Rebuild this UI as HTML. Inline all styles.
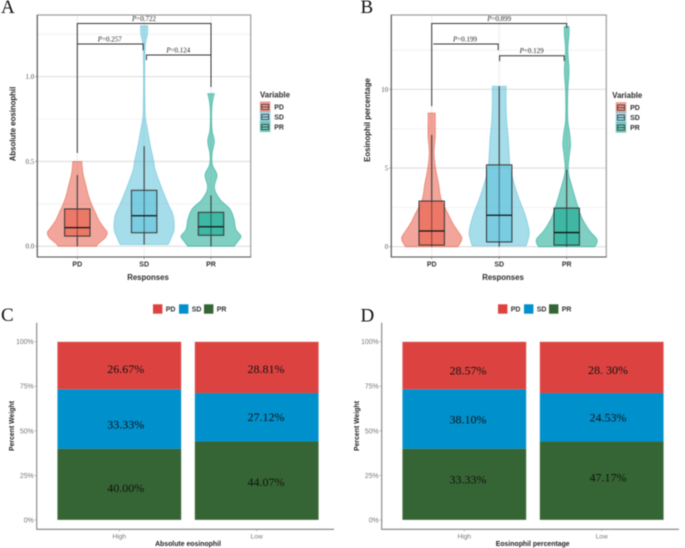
<!DOCTYPE html>
<html lang="en">
<head>
<meta charset="utf-8">
<title>Eosinophil violin and stacked bar charts</title>
<style>
html,body{margin:0;padding:0;background:#fff;width:685px;height:548px;overflow:hidden}
svg{display:block;filter:blur(0.5px)}
.letter{font-family:"Liberation Serif",serif;font-size:19px;fill:#111}
.title{font-family:"Liberation Sans",sans-serif;font-weight:bold;font-size:7.8px;fill:#2a2a2a}
.small-title{font-family:"Liberation Sans",sans-serif;font-weight:bold;font-size:6.9px;fill:#222}
.legend-text{font-family:"Liberation Sans",sans-serif;font-weight:bold;font-size:7px;fill:#333}
</style>
</head>
<body>
<svg id="figure" xmlns="http://www.w3.org/2000/svg" width="685" height="548" viewBox="0 0 685 548">
  <rect width="685" height="548" fill="#fff"/>
  <g id="panel-a"></g>
  <g id="panel-b"></g>
  <g id="panel-c"></g>
  <g id="panel-d"></g>

  <text class="letter" x="1" y="13">A</text>
  <text class="letter" x="360.5" y="13">B</text>
  <text class="letter" x="1" y="321">C</text>
  <text class="letter" x="360.5" y="321.5">D</text>

  <text class="title" transform="translate(15.5,124) rotate(-90)" text-anchor="middle">Absolute eosinophil</text>
  <text class="title" x="148" y="280" text-anchor="middle">Responses</text>
  <text class="title" transform="translate(370,120) rotate(-90)" text-anchor="middle">Eosinophil percentage</text>
  <text class="title" x="503" y="280" text-anchor="middle">Responses</text>

  <text class="small-title" transform="translate(14,426) rotate(-90)" text-anchor="middle">Percent Weight</text>
  <text class="small-title" x="188" y="546" text-anchor="middle">Absolute eosinophil</text>
  <text class="small-title" transform="translate(359,426) rotate(-90)" text-anchor="middle">Percent Weight</text>
  <text class="small-title" x="532.7" y="546" text-anchor="middle">Eosinophil percentage</text>

  <text class="title" x="260" y="97.5">Variable</text>
  <text class="title" x="612.3" y="98">Variable</text>
</svg>

<script>
/* Shared */
var responseCategories = ['PD', 'SD', 'PR'];
var violinColors = ['#E64B35', '#4DBBD5', '#00A087'];
var stackColors = ['#DC4340', '#0090CC', '#356534'];

/* Panel A: violin levels (value) and relative density (0-100) */
var aTicksMajor = [0, 0.5, 1];
var aTicksMinor = [0.25, 0.75, 1.25];
var aTickLabels = ['0.0', '0.5', '1.0'];
var aPdLevels = [0.5, 0.46, 0.42, 0.35, 0.3, 0.25, 0.2, 0.15, 0.1, 0.08, 0.05, 0.02, 0];
var aPdDensity = [15, 17, 20, 30, 37, 47, 60, 73, 93, 100, 93, 73, 63];
var aSdLevels = [1.3, 1.25, 1.2, 1.15, 1, 0.8, 0.75, 0.7, 0.6, 0.5, 0.45, 0.35, 0.25, 0.18, 0.1, 0.05, 0.01];
var aSdDensity = [12, 11, 5, 3, 2, 3, 5, 10, 20, 32, 37, 57, 80, 97, 100, 90, 80];
var aPrLevels = [0.9, 0.87, 0.82, 0.75, 0.68, 0.62, 0.55, 0.5, 0.47, 0.42, 0.36, 0.32, 0.27, 0.22, 0.16, 0.1, 0.06, 0.03, 0];
var aPrDensity = [11, 7, 3, 2, 4, 11, 4, 3, 7, 20, 12, 15, 33, 63, 77, 83, 100, 90, 77];
var aWhiskerLow = [0, 0.01, 0];
var aQ1 = [0.06, 0.08, 0.065];
var aMedian = [0.11, 0.18, 0.115];
var aQ3 = [0.22, 0.33, 0.2];
var aWhiskerHigh = [0.42, 0.59, 0.3];
var aPValues = ['0.722', '0.257', '0.124'];

/* Panel B */
var bTicksMajor = [0, 5, 10];
var bTicksMinor = [2.5, 7.5, 12.5];
var bTickLabels = ['0', '5', '10'];
var bPdLevels = [8.5, 8, 7, 6, 5, 4, 3, 2, 1.5, 1, 0.6, 0.3, 0];
var bPdDensity = [12, 12, 12, 8, 13, 23, 32, 57, 70, 87, 100, 97, 87];
var bSdLevels = [10.2, 9, 8, 7, 6, 5, 4, 3, 2, 1, 0.5, 0.05];
var bSdDensity = [23, 23, 25, 30, 33, 37, 50, 67, 87, 100, 97, 90];
var bPrLevels = [14, 13.5, 12.5, 11.2, 10, 9, 8, 7.2, 6.5, 6, 5, 4.5, 4, 3, 2, 1.5, 1, 0.5, 0.2, 0];
var bPrDensity = [8, 8, 4, 8, 4, 3, 4, 10, 13, 10, 5, 8, 15, 30, 47, 60, 77, 100, 100, 93];
var bWhiskerLow = [0, 0, 0];
var bQ1 = [0.1, 0.3, 0.1];
var bMedian = [1, 2, 0.9];
var bQ3 = [2.9, 5.2, 2.45];
var bWhiskerHigh = [7.1, 10.2, 4.9];
var bPValues = ['0.899', '0.199', '0.129'];

/* Panels C and D: stacked percentages per group, top segment first */
var stackGroups = ['High', 'Low'];
var stackTickValues = [0, 25, 50, 75, 100];
var stackTickLabels = ['0%', '25%', '50%', '75%', '100%'];
var cPd = [26.67, 28.81];
var cSd = [33.33, 27.12];
var cPr = [40, 44.07];
var cLabelsPd = ['26.67%', '28.81%'];
var cLabelsSd = ['33.33%', '27.12%'];
var cLabelsPr = ['40.00%', '44.07%'];
var dPd = [26.67, 28.8];
var dSd = [33.33, 27.2];
var dPr = [40, 44];
var dLabelsPd = ['28.57%', '28. 30%'];
var dLabelsSd = ['38.10%', '24.53%'];
var dLabelsPr = ['33.33%', '47.17%'];

var SVGNS = 'http://www.w3.org/2000/svg';

function make(parent, tag) {
  var el = document.createElementNS(SVGNS, tag);
  parent.appendChild(el);
  return el;
}
function setAll(el, attrs) {
  for (var k in attrs) { el.setAttribute(k, attrs[k]); }
  return el;
}

function smoothSide(pts) {
  var d = '';
  for (var i = 0; i < pts.length - 1; i++) {
    var p0 = pts[Math.max(i - 1, 0)], p1 = pts[i], p2 = pts[i + 1], p3 = pts[Math.min(i + 2, pts.length - 1)];
    var c1x = p1[0] + (p2[0] - p0[0]) / 6, c1y = p1[1] + (p2[1] - p0[1]) / 6;
    var c2x = p2[0] - (p3[0] - p1[0]) / 6, c2y = p2[1] - (p3[1] - p1[1]) / 6;
    d += 'C' + c1x.toFixed(2) + ' ' + c1y.toFixed(2) + ' ' + c2x.toFixed(2) + ' ' + c2y.toFixed(2) + ' ' + p2[0].toFixed(2) + ' ' + p2[1].toFixed(2);
  }
  return d;
}

function drawViolinPanel(cfg) {
  var root = document.getElementById(cfg.id);
  var x = function (i) { return cfg.x0 + cfg.step * i; };
  var y = function (v) { return cfg.y0 - cfg.pxPerUnit * v; };
  var densityScale = 0.3, boxHalf = 12.7;

  var panelBg = make(root, 'rect');
  setAll(panelBg, { x: cfg.left, y: cfg.top, width: cfg.right - cfg.left, height: cfg.bottom - cfg.top, fill: '#fff' });
  
  

  cfg.minor.forEach(function (t) {
    var g = make(root, 'line');
    setAll(g, { x1: cfg.left, x2: cfg.right, y1: y(t), y2: y(t), stroke: '#efefef', 'stroke-width': 0.8 });
    
    
  });
  cfg.major.forEach(function (t, i) {
    var g = make(root, 'line');
    setAll(g, { x1: cfg.left, x2: cfg.right, y1: y(t), y2: y(t), stroke: '#e3e3e3', 'stroke-width': 1.3 });
    
    
    var tick = make(root, 'line');
    setAll(tick, { x1: cfg.left - 2, x2: cfg.left, y1: y(t), y2: y(t), stroke: '#777', 'stroke-width': 0.7 });
    
    
    var lab = make(root, 'text');
    setAll(lab, { x: cfg.left - 3, y: y(t) + 2.4, 'text-anchor': 'end', 'font-size': 7, fill: '#555', 'font-family': '"Liberation Serif",serif' });
    lab.textContent = cfg.tickLabels[i];
    
    
  });
  responseCategories.forEach(function (c, i) {
    var g = make(root, 'line');
    setAll(g, { x1: x(i), x2: x(i), y1: cfg.top, y2: cfg.bottom, stroke: '#ececec', 'stroke-width': 1 });
    
    
  });

  responseCategories.forEach(function (c, i) {
    var lv = cfg.levels[i], dn = cfg.density[i];
    var right = lv.map(function (v, k) { return [x(i) + dn[k] * densityScale, y(v)]; });
    var left = lv.map(function (v, k) { return [x(i) - dn[k] * densityScale, y(v)]; }).reverse();
    var d = 'M' + right[0][0].toFixed(2) + ' ' + right[0][1].toFixed(2) + smoothSide(right) +
            'L' + left[0][0].toFixed(2) + ' ' + left[0][1].toFixed(2) + smoothSide(left) + 'Z';
    var v = make(root, 'path');
    setAll(v, { d: d, fill: violinColors[i], 'fill-opacity': 0.5, stroke: violinColors[i], 'stroke-opacity': 0.45, 'stroke-width': 1 });
    
    

    var wh = make(root, 'line');
    setAll(wh, { x1: x(i), x2: x(i), y1: y(cfg.wLow[i]), y2: y(cfg.wHigh[i]), stroke: '#3e3e3e', 'stroke-width': 1.1 });
    
    

    var box = make(root, 'rect');
    setAll(box, { x: x(i) - boxHalf, y: y(cfg.q3[i]), width: boxHalf * 2, height: y(cfg.q1[i]) - y(cfg.q3[i]), fill: violinColors[i], 'fill-opacity': 0.5, stroke: '#333', 'stroke-width': 1 });
    
    

    var med = make(root, 'line');
    setAll(med, { x1: x(i) - boxHalf, x2: x(i) + boxHalf, y1: y(cfg.median[i]), y2: y(cfg.median[i]), stroke: '#111', 'stroke-width': 1.3 });
    
    

    var tick = make(root, 'line');
    setAll(tick, { x1: x(i), x2: x(i), y1: cfg.bottom, y2: cfg.bottom + 2, stroke: '#777', 'stroke-width': 0.7 });
    
    

    var lab = make(root, 'text');
    setAll(lab, { x: x(i), y: cfg.bottom + 9.5, 'text-anchor': 'middle', 'font-size': 7, 'font-weight': 'bold', fill: '#333', 'font-family': '"Liberation Sans",sans-serif' });
    lab.textContent = c;
    
    

    var ky = cfg.legendY + i * 10;
    var key = make(root, 'rect');
    setAll(key, { x: cfg.legendX, y: ky - 5.5, width: 10.6, height: 10.6, fill: violinColors[i], 'fill-opacity': 0.55 });
    
    
    var keyBox = make(root, 'rect');
    setAll(keyBox, { x: cfg.legendX + 1.7, y: ky - 2.6, width: 7.2, height: 5.2, fill: 'none', stroke: '#333', 'stroke-width': 0.8 });
    
    
    var keyMed = make(root, 'line');
    setAll(keyMed, { x1: cfg.legendX + 1.7, x2: cfg.legendX + 8.9, y1: ky, y2: ky, stroke: '#333', 'stroke-width': 0.8 });
    
    
    var keyText = make(root, 'text');
    setAll(keyText, { x: cfg.legendX + 14.4, y: ky + 2.4, class: 'legend-text' });
    keyText.textContent = c;
    
    
  });

  cfg.brackets.forEach(function (b, idx) {
    var x1 = x(b.from), x2 = x(b.to), yy = y(b.at);
    var d = 'M' + x1 + ' ' + y(b.dropLeft) + 'L' + x1 + ' ' + yy + 'L' + x2 + ' ' + yy + 'L' + x2 + ' ' + y(b.dropRight);
    var p = make(root, 'path');
    setAll(p, { d: d, fill: 'none', stroke: '#333', 'stroke-width': 1 });
    
    
    var t = make(root, 'text');
    setAll(t, { x: x(b.textAt), y: yy - 2.6, 'text-anchor': 'middle', 'font-size': 7, fill: '#222', 'font-family': '"Liberation Serif",serif' });
    
    
    var it = make(t, 'tspan');
    it.setAttribute('font-style', 'italic');
    it.textContent = 'P';
    var rest = make(t, 'tspan');
    rest.textContent = '=' + cfg.pValues[idx];
  });

  var frame = make(root, 'rect');
  setAll(frame, { x: cfg.left, y: cfg.top, width: cfg.right - cfg.left, height: cfg.bottom - cfg.top, fill: 'none', stroke: '#9c9c9c', 'stroke-width': 1.2 });
  
  
  var axes = make(root, 'path');
  setAll(axes, { d: 'M' + cfg.left + ' ' + cfg.top + 'L' + cfg.left + ' ' + cfg.bottom + 'L' + cfg.right + ' ' + cfg.bottom, fill: 'none', stroke: '#5e5e5e', 'stroke-width': 1.1 });
  
  
}

drawViolinPanel({
  id: 'panel-a', prefix: 'a', left: 37.3, right: 250.7, top: 15, bottom: 257,
  x0: 77.3, step: 66.85, y0: 246.3, pxPerUnit: 169.7,
  major: aTicksMajor, minor: aTicksMinor, tickLabels: aTickLabels,
  levels: [aPdLevels, aSdLevels, aPrLevels], density: [aPdDensity, aSdDensity, aPrDensity],
  wLow: aWhiskerLow, q1: aQ1, median: aMedian, q3: aQ3, wHigh: aWhiskerHigh,
  legendX: 259.8, legendY: 107,
  pValues: aPValues,
  brackets: [
    { from: 0, to: 2, at: 1.313, dropLeft: 0.55, dropRight: 0.939, textAt: 0.998 },
    { from: 0, to: 0.985, at: 1.192, dropLeft: 1.192, dropRight: 1.155, textAt: 0.486 },
    { from: 1.035, to: 2, at: 1.127, dropLeft: 1.097, dropRight: 1.127, textAt: 1.511 }
  ]
});

drawViolinPanel({
  id: 'panel-b', prefix: 'b', left: 391.3, right: 606.3, top: 15, bottom: 257,
  x0: 431.7, step: 67.5, y0: 246.7, pxPerUnit: 15.73,
  major: bTicksMajor, minor: bTicksMinor, tickLabels: bTickLabels,
  levels: [bPdLevels, bSdLevels, bPrLevels], density: [bPdDensity, bSdDensity, bPrDensity],
  wLow: bWhiskerLow, q1: bQ1, median: bMedian, q3: bQ3, wHigh: bWhiskerHigh,
  legendX: 615.7, legendY: 107.6,
  pValues: bPValues,
  brackets: [
    { from: 0, to: 2, at: 14.19, dropLeft: 8.94, dropRight: 13.9, textAt: 1.0 },
    { from: 0.024, to: 0.985, at: 12.89, dropLeft: 12.89, dropRight: 12.5, textAt: 0.494 },
    { from: 1.006, to: 1.963, at: 12.14, dropLeft: 11.8, dropRight: 11.8, textAt: 1.48 }
  ]
});

function drawStackPanel(cfg) {
  var root = document.getElementById(cfg.id);
  var dx = cfg.dx;
  var y = function (p) { return 520 - 1.783 * p; };
  var barLeft = [57.3 + dx, 194.7 + dx], barWidth = 124, centers = [119.3 + dx, 256.7 + dx];

  stackTickValues.forEach(function (t, i) {
    var tick = make(root, 'line');
    setAll(tick, { x1: 34.6 + dx, x2: 36.7 + dx, y1: y(t), y2: y(t), stroke: '#888', 'stroke-width': 0.6 });
    
    
    var lab = make(root, 'text');
    setAll(lab, { x: 33.7 + dx, y: y(t) + 2.4, 'text-anchor': 'end', 'font-size': 6.9, fill: '#777', 'font-family': '"Liberation Sans",sans-serif' });
    lab.textContent = stackTickLabels[i];
    
    
  });

  stackGroups.forEach(function (g, gi) {
    var base = 0;
    var order = [2, 1, 0];
    order.forEach(function (s) {
      var val = cfg.series[s][gi];
      var r = make(root, 'rect');
      setAll(r, { x: barLeft[gi], y: y(base + val), width: barWidth, height: y(base) - y(base + val), fill: stackColors[s] });
      
      
      base += val;
    });
    var outline = make(root, 'rect');
    setAll(outline, { x: barLeft[gi], y: y(base), width: barWidth, height: y(0) - y(base), fill: 'none', stroke: '#ffffff', 'stroke-opacity': 0.4, 'stroke-width': 0.8 });
    
    
    base = 0;
    order.forEach(function (s) {
      var val = cfg.series[s][gi];
      var t = make(root, 'text');
      setAll(t, { x: cfg.labelX[gi] + dx, y: y(base + val / 2 + cfg.labelShift[s][gi]) + 4, 'text-anchor': 'middle', 'font-size': 12, fill: '#111', 'font-family': '"Liberation Serif",serif' });
      t.textContent = cfg.labels[s][gi];
      
      
      base += val;
    });
    var tick = make(root, 'line');
    setAll(tick, { x1: centers[gi], x2: centers[gi], y1: 529.3, y2: 531.3, stroke: '#888', 'stroke-width': 0.6 });
    
    
    var lab = make(root, 'text');
    setAll(lab, { x: centers[gi], y: 538.4, 'text-anchor': 'middle', 'font-size': 6.6, fill: '#777', 'font-family': '"Liberation Sans",sans-serif' });
    lab.textContent = g;
    
    
  });

  var axes = make(root, 'path');
  setAll(axes, { d: 'M' + (36.7 + dx) + ' 322.7L' + (36.7 + dx) + ' 529.3L' + (334 + dx) + ' 529.3', fill: 'none', stroke: '#969696', 'stroke-width': 1.3 });
  
  

  var keyStep = [153, 179, 204];
  responseCategories.forEach(function (c, i) {
    var key = make(root, 'rect');
    setAll(key, { x: keyStep[i] + dx, y: 304.3, width: 9.4, height: 9.4, fill: stackColors[i] });
    
    
    var t = make(root, 'text');
    setAll(t, { x: keyStep[i] + dx + 12.7, y: 311.4, class: 'legend-text' });
    t.textContent = c;
    
    
  });
}

drawStackPanel({
  id: 'panel-c', prefix: 'c', dx: 0, labelX: [125.7, 266],
  series: [cPd, cSd, cPr], labels: [cLabelsPd, cLabelsSd, cLabelsPr],
  labelShift: [[-2, -1], [-3, 0.2], [-2, -0.7]]
});

drawStackPanel({
  id: 'panel-d', prefix: 'd', dx: 345, labelX: [123, 263],
  series: [dPd, dSd, dPr], labels: [dLabelsPd, dLabelsSd, dLabelsPr],
  labelShift: [[-2.7, -1.6], [-0.4, -0.2], [2.6, 1.9]]
});
</script>
</body>
</html>
